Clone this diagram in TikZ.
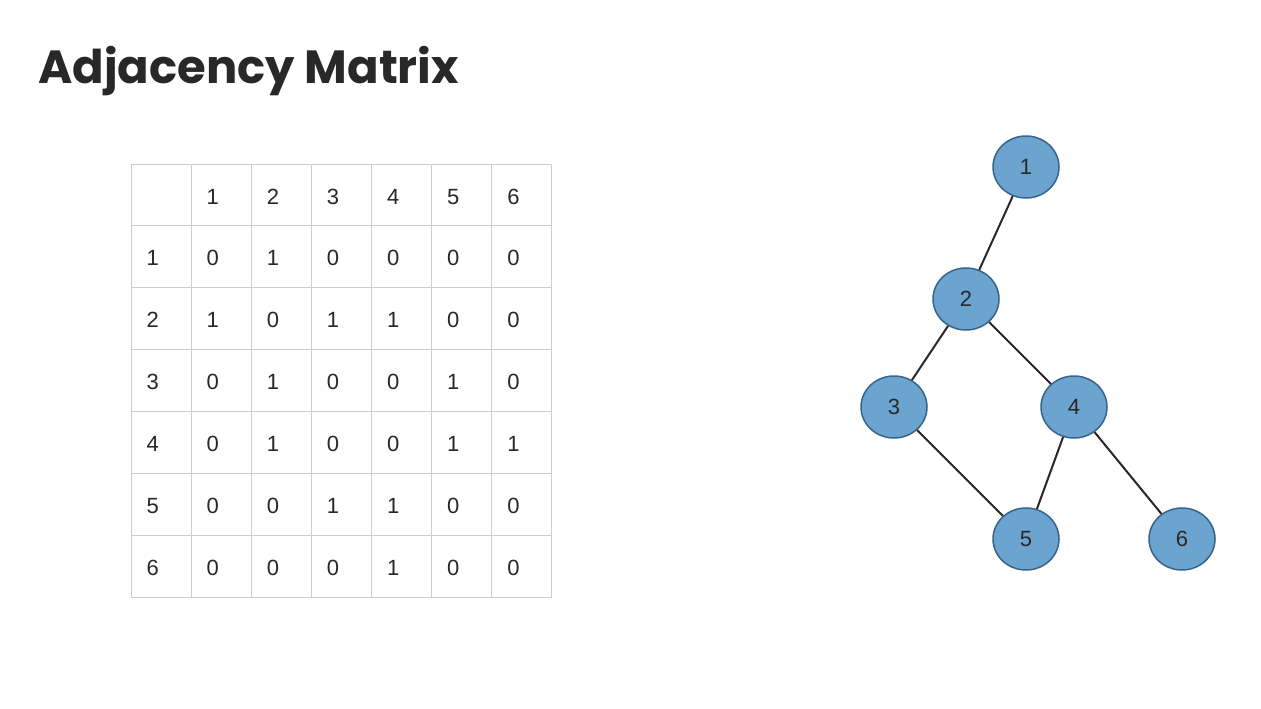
\documentclass[tikz,border=0pt]{standalone}
\usepackage{fontspec}
\setmainfont{Liberation Sans}
\newfontfamily\titlefont{Poppins}
\usetikzlibrary{shapes.geometric}
\definecolor{nodefill}{RGB}{108,164,208}
\definecolor{nodeedge}{RGB}{55,100,140}
\definecolor{gridc}{RGB}{205,205,205}
\definecolor{txt}{RGB}{40,40,40}
\begin{document}
\begin{tikzpicture}[x=1pt,y=-1pt,
  vert/.style={ellipse,draw=nodeedge,line width=1.5pt,fill=nodefill,minimum width=66pt,minimum height=62pt,inner sep=0pt,font=\fontsize{22}{24}\selectfont,text=txt},
  cell/.style={font=\fontsize{22}{24}\selectfont,text=txt,anchor=base west},
  edge/.style={line width=2pt,draw=txt}]
\useasboundingbox (0,0) rectangle (1261,709);
\fill[white] (0,0) rectangle (1261,709);
\node[anchor=base west,font=\titlefont\bfseries\fontsize{46.5}{50}\selectfont,text=txt,inner sep=0pt] (title) at (38,84) {Adjacency Matrix};
\foreach \i in {0,...,7} {
  \draw[gridc,line width=1pt] ({131+\i*60.14},164) -- ({131+\i*60.14},597);
  \draw[gridc,line width=1pt] (131,{164+\i*61.86}) -- (552,{164+\i*61.86});
}
\foreach \j in {1,...,6} {
  \node[cell] (h\j) at ({131+\j*60.14+12},204) {\j};
  \node[cell] (r\j) at (143,{164+\j*61.86+40}) {\j};
}
\foreach \r/\row in {1/{0,1,0,0,0,0},2/{1,0,1,1,0,0},3/{0,1,0,0,1,0},4/{0,1,0,0,1,1},5/{0,0,1,1,0,0},6/{0,0,0,1,0,0}} {
  \foreach \v [count=\c] in \row {
    \node[cell] (m\r\c) at ({131+\c*60.14+12},{164+\r*61.86+40}) {\v};
  }
}
\node[vert] (n1) at (1026,167) {1};
\node[vert] (n2) at (966,299) {2};
\node[vert] (n3) at (894,407) {3};
\node[vert] (n4) at (1074,407) {4};
\node[vert] (n5) at (1026,539) {5};
\node[vert] (n6) at (1182,539) {6};
\draw[edge] (n1) -- (n2);
\draw[edge] (n2) -- (n3);
\draw[edge] (n2) -- (n4);
\draw[edge] (n3) -- (n5);
\draw[edge] (n4) -- (n5);
\draw[edge] (n4) -- (n6);
\end{tikzpicture}
\end{document}
